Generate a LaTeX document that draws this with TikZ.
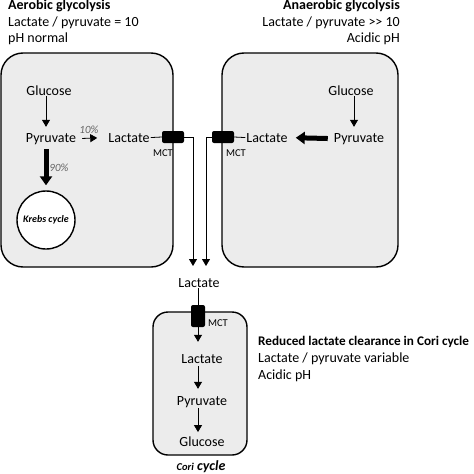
\documentclass[tikz,border=0pt]{standalone}
\usepackage{fontspec}
\setmainfont{Carlito}
\usetikzlibrary{arrows.meta,calc}
\begin{document}
\begin{tikzpicture}[x=1pt,y=-1pt,
  txt/.style={font=\fontsize{14}{16}\selectfont, inner sep=1pt, anchor=base},
  ttl/.style={font=\fontsize{14}{16}\selectfont, inner sep=0pt},
  mctlbl/.style={font=\fontsize{10.5}{12}\selectfont, inner sep=0pt, anchor=base},
  pct/.style={font=\fontsize{11}{12}\selectfont\itshape, text=black!60, inner sep=0pt, anchor=base},
  cell/.style={draw=black, line width=1.4pt, fill=gray!15, rounded corners=22pt},
  mct/.style={fill=black, rounded corners=2pt, minimum width=22pt, minimum height=12pt, inner sep=0pt},
  arr/.style={-{Triangle[width=8pt,length=7pt]}, line width=0.8pt},
  bigarr/.style={-{Triangle[width=12pt,length=9pt]}, line width=5pt},
  ln/.style={line width=0.8pt}
]
\useasboundingbox (0,0) rectangle (474,474);
\fill[white] (0,0) rectangle (474,474);

% titles
\node[ttl, anchor=base west] (t1) at (8,9) {\bfseries Aerobic glycolysis};
\node[ttl, anchor=base west] (t2) at (8,26) {Lactate / pyruvate = 10};
\node[ttl, anchor=base west] (t3) at (8,42) {pH normal};
\node[ttl, anchor=base east] (t4) at (400,9) {\bfseries Anaerobic glycolysis};
\node[ttl, anchor=base east] (t5) at (400,26) {Lactate / pyruvate >\kern0pt> 10};
\node[ttl, anchor=base east] (t6) at (400,42) {Acidic pH};

% cells
\draw[cell] (1,53) rectangle (173,267);
\draw[cell] (222,53) rectangle (398,267);
\draw[cell, rounded corners=15pt] (153,312) rectangle (247,455);

% left cell
\node[txt] (g1) at (49,95) {Glucose};
\node[txt] (p1) at (51,142) {Pyruvate};
\node[txt] (l1) at (129,142) {Lactate};
\node[circle, draw=black, line width=1.4pt, fill=white, minimum size=58pt, inner sep=0pt,
      font=\fontsize{10}{12}\selectfont\bfseries\itshape] (kr) at (46,220) {Krebs cycle};
\node[pct] (pc10) at (89,133) {10\%};
\node[pct] (pc90) at (59,171) {90\%};

% right cell
\node[txt] (g2) at (351,95) {Glucose};
\node[txt] (p2) at (359,142) {Pyruvate};
\node[txt] (l2) at (267,142) {Lactate};

% MCTs
\node[mct] (m1) at (173,137) {};
\node[mct] (m2) at (223,137) {};
\node[mctlbl] (ml1) at (163,156) {MCT};
\node[mctlbl] (ml2) at (236,156) {MCT};

% bottom
\node[txt] (l0) at (199,287) {Lactate};
\node[txt] (l3) at (202,363) {Lactate};
\node[txt] (p3) at (202,405) {Pyruvate};
\node[txt] (g3) at (202,446) {Glucose};
\node[ttl, anchor=base] (cc) at (201,470) {\bfseries\itshape{\fontsize{10.5}{12}\selectfont Cori} cycle};

\node[ttl, anchor=base west, font=\fontsize{13.2}{16}\selectfont] (r1) at (258,345) {\bfseries Reduced lactate clearance in Cori cycle};
\node[ttl, anchor=base west] (r2) at (258,362) {Lactate / pyruvate variable};
\node[ttl, anchor=base west] (r3) at (258,379) {Acidic pH};

% connectors, left cell
\draw[arr, shorten >=5pt] ([xshift=-3pt]g1.south) -- ([xshift=-3pt]g1.south |- p1.north);
\draw[arr, shorten <=5pt, shorten >=10pt] (p1.east) -- (l1.west);
\draw[bigarr, shorten <=3.5pt, shorten >=5pt] (kr.north |- p1.south) -- (kr.north);
\draw[ln] (l1.east) -- (m1.west);
\coordinate (d1) at (193,266);
\draw[arr] (m1.east) -| (d1);

% right cell
\draw[arr, shorten >=5pt] ([xshift=3pt]g2.south) -- ([xshift=3pt]g2.south |- p2.north);
\draw[bigarr, shorten <=5pt, shorten >=7pt] (p2.west) -- (l2.east);
\draw[ln] (l2.west) -- (m2.east);
\coordinate (d2) at (206,266);
\draw[arr] (m2.west) -| (d2);

% cori cell
\coordinate (m3c) at (198,316);
\draw[ln] (l0.south -| m3c) -- (m3c);
\node[mct, minimum width=14pt, minimum height=22pt] (m3) at (m3c) {};
\node[mctlbl] (ml3) at (218,326) {MCT};
\draw[arr, shorten >=11pt] (m3.south) -- (m3.south |- l3.north);
\draw[arr, shorten <=2pt, shorten >=6pt] (l3.south -| m3.south) -- (m3.south |- p3.north);
\draw[arr, shorten <=0pt, shorten >=3pt] (p3.south -| m3.south) -- (m3.south |- g3.north);
\end{tikzpicture}
\end{document}
